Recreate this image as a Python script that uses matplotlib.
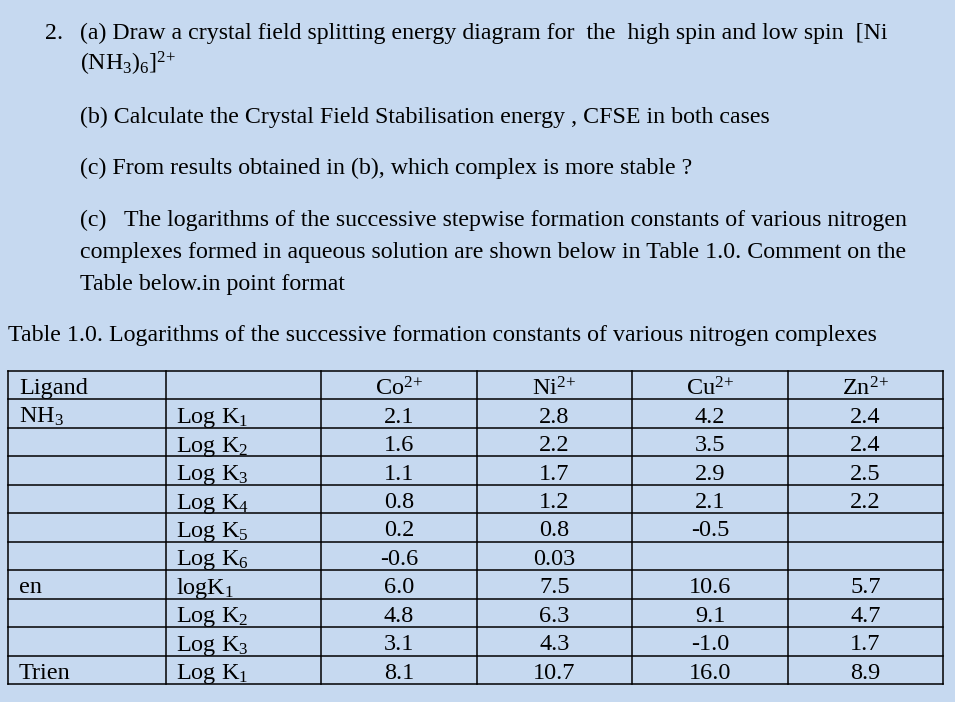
import matplotlib
matplotlib.use('Agg')
import matplotlib.pyplot as plt

plt.rcParams['font.family'] = ['Liberation Serif', 'DejaVu Serif']
plt.rcParams['mathtext.fontset'] = 'custom'
plt.rcParams['mathtext.rm'] = 'Liberation Serif'
plt.rcParams['mathtext.it'] = 'Liberation Serif:italic'

# table content
headers = ['Ligand', '', r'Co$^{2\!+}$', r'Ni$^{2\!+}$', r'Cu$^{2\!+}$', r'Zn$^{2\!+}$']
ligands = ['NH$_3$', '', '', '', '', '', 'en', '', '', 'Trien']
constants = ['Log K$_1$', 'Log K$_2$', 'Log K$_3$', 'Log K$_4$', 'Log K$_5$', 'Log K$_6$',
             'logK$_1$', 'Log K$_2$', 'Log K$_3$', 'Log K$_1$']
co = ['2.1', '1.6', '1.1', '0.8', '0.2', '-0.6', '6.0', '4.8', '3.1', '8.1']
ni = ['2.8', '2.2', '1.7', '1.2', '0.8', '0.03', '7.5', '6.3', '4.3', '10.7']
cu = ['4.2', '3.5', '2.9', '2.1', '-0.5', '', '10.6', '9.1', '-1.0', '16.0']
zn = ['2.4', '2.4', '2.5', '2.2', '', '', '5.7', '4.7', '1.7', '8.9']

col_edges = [8, 166, 321, 477, 632, 788, 943]
row_top, row_h = 371, 28.45

W, H = 955, 702
fig = plt.figure(figsize=(W / 100, H / 100), dpi=100)
fig.patch.set_facecolor('#c6d9f0')
ax = fig.add_axes([0, 0, 1, 1])
ax.set_xlim(0, W)
ax.set_ylim(H, 0)
ax.axis('off')

fs = 17.2
def txt(x, y, s, ha='left', size=fs):
    ax.text(x, y, s, fontsize=size, ha=ha, va='center_baseline', color='black')

# question text
txt(45, 31, '2.')
txt(80, 31, '(a) Draw a crystal field splitting energy diagram for  the  high spin and low spin  [Ni')
txt(80, 60, r'(NH$_3$)$_6$]$^{2\!+}$')
txt(80, 115, '(b) Calculate the Crystal Field Stabilisation energy , CFSE in both cases')
txt(80, 166, '(c) From results obtained in (b), which complex is more stable ?')
txt(80, 218, '(c)   The logarithms of the successive stepwise formation constants of various nitrogen')
txt(80, 250, 'complexes formed in aqueous solution are shown below in Table 1.0. Comment on the')
txt(80, 282, 'Table below.in point format')
txt(8, 333, 'Table 1.0. Logarithms of the successive formation constants of various nitrogen complexes')

# grid
n_rows = len(constants) + 1
for i in range(n_rows + 1):
    y = row_top + i * row_h
    ax.plot([col_edges[0], col_edges[-1]], [y, y], color='black', lw=1.1)
for x in col_edges:
    ax.plot([x, x], [row_top, row_top + n_rows * row_h], color='black', lw=1.1)

def cy(i):
    return row_top + (i + 0.5) * row_h + 1

ts = 17.5
txt(19, cy(0), headers[0], size=ts)
for j in range(2, 6):
    txt((col_edges[j] + col_edges[j + 1]) / 2, cy(0), headers[j], ha='center', size=ts)

for i in range(len(constants)):
    txt(19, cy(i + 1), ligands[i], size=ts)
    txt(176, cy(i + 1), constants[i], size=ts)
    for j, col in enumerate([co, ni, cu, zn]):
        txt((col_edges[j + 2] + col_edges[j + 3]) / 2, cy(i + 1), col[i], ha='center', size=ts)

fig.savefig('out.png', dpi=100, facecolor=fig.get_facecolor())
